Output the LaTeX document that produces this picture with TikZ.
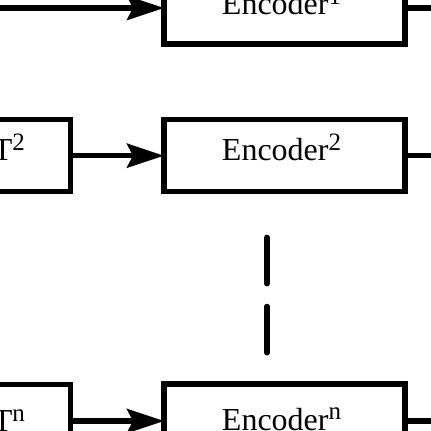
\documentclass[tikz,border=0pt]{standalone}
\usepackage{fontspec}
\setmainfont{Liberation Serif}
\usetikzlibrary{arrows.meta}
\newcommand\mysup[1]{\raisebox{10pt}{\fontsize{25}{25}\selectfont #1}}
\begin{document}
\begin{tikzpicture}[x=1pt,y=1pt,
  blk/.style={draw,line width=5.5pt,inner sep=0pt,outer sep=0pt,minimum height=72pt},
  enc/.style={blk,minimum width=241pt},
  lbl/.style={inner sep=0pt,font=\fontsize{32}{36}\selectfont},
  conn/.style={line width=5.5pt,-{Stealth[length=37pt 0 0,width=24pt 0 0,inset=6pt 0]}},
  plain/.style={line width=5.5pt}]
\useasboundingbox (0,0) rectangle (431,431);
\clip (0,0) rectangle (431,431);
% encoders
\node[enc] (e1) at (284.5,423) {};
\node[enc] (e2) at (284.5,275.3) {};
\node[enc,minimum height=74pt] (en) at (284.5,10) {};
% left blocks
\node[blk,minimum width=150pt] (l2) at (-4.7,275.3) {};
\node[blk,minimum width=150pt,minimum height=74pt] (ln) at (-4.7,9.6) {};
\coordinate (s1) at (-60,423);
% labels
\node[lbl,anchor=base] at (281.5,416) {Encoder\mysup{1}};
\node[lbl,anchor=base] at (281.5,270.7) {Encoder\mysup{2}};
\node[lbl,anchor=base] at (281.5,1) {Encoder\mysup{n}};
\node[lbl,anchor=base east] at (25,270.7) {T\mysup{2}};
\node[lbl,anchor=base east] at (25,-1) {T\mysup{n}};
% connectors
\draw[conn] (s1) -- (e1.west);
\draw[conn] (l2.east) -- (e2.west);
\draw[conn] (ln.east |- en.west) -- (en.west);
\coordinate (r1) at (460,423);
\coordinate (r2) at (460,275.3);
\coordinate (rn) at (460,10);
\draw[plain] (e1.east) -- (r1);
\draw[plain] (e2.east) -- (r2);
\draw[plain] (en.east) -- (rn);
% dots
\coordinate (d1) at (267,193.5);
\coordinate (d2) at (267,77.8);
\draw[line width=5.5pt,line cap=round,dash pattern=on 46.2pt off 22.8pt] (d1) -- (d2);
\end{tikzpicture}
\end{document}
